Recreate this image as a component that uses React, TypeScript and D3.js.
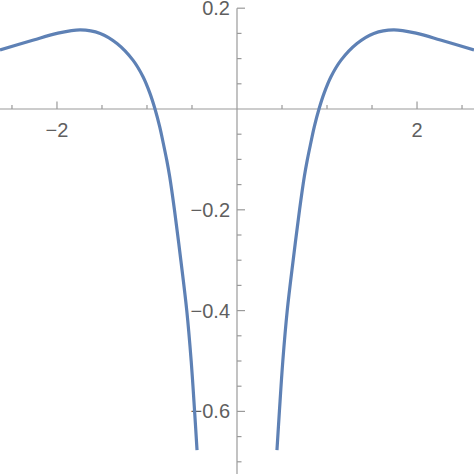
import React from 'react';
import * as d3 from 'd3';

const W = 474;
const H = 474;

// right branch
const rightX = [0.444, 0.471, 0.509, 0.558, 0.624, 0.695, 0.748, 0.781, 0.819, 0.859, 0.911, 0.967, 1.044, 1.156, 1.333, 1.52, 1.74, 2.0, 2.26, 2.633];
const rightY = [-0.677, -0.6, -0.5, -0.4, -0.3, -0.2, -0.134, -0.101, -0.068, -0.035, 0, 0.031, 0.064, 0.097, 0.13, 0.15, 0.157, 0.15, 0.137, 0.117];

// left branch
const leftX = [-2.633, -2.26, -2.0, -1.74, -1.52, -1.333, -1.156, -1.044, -0.967, -0.911, -0.859, -0.819, -0.781, -0.748, -0.695, -0.624, -0.558, -0.509, -0.471, -0.444];
const leftY = [0.117, 0.137, 0.15, 0.157, 0.15, 0.13, 0.097, 0.064, 0.031, 0, -0.035, -0.068, -0.101, -0.134, -0.2, -0.3, -0.4, -0.5, -0.6, -0.677];

const xMajorTicks = [-2, 2];
const xMinorTicks = [-2.5, -1.5, -1, -0.5, 0.5, 1, 1.5, 2.5];
const yMajorTicks = [0.2, -0.2, -0.4, -0.6];
const yMinorTicks = [0.15, 0.1, 0.05, -0.05, -0.1, -0.15, -0.25, -0.3, -0.35, -0.45, -0.5, -0.55, -0.65, -0.7];

const fmt = (v: number) => (v < 0 ? '\u2212' + Math.abs(v) : String(v));

export default function App() {
  const x = d3.scaleLinear().domain([-2.633, 2.633]).range([0, W]);
  const y = d3.scaleLinear().domain([0, -0.2]).range([109, 209.8]);

  const line = d3.line<[number, number]>()
    .x(d => x(d[0]))
    .y(d => y(d[1]))
    .curve(d3.curveCatmullRom.alpha(0.5));

  const right = rightX.map((v, i) => [v, rightY[i]] as [number, number]);
  const left = leftX.map((v, i) => [v, leftY[i]] as [number, number]);

  const axisColor = '#9a9a9a';
  const labelColor = '#5f5f5f';
  const x0 = x(0);
  const y0 = y(0);

  return (
    <svg width={W} height={H} style={{ position: 'fixed', left: 0, top: 0, background: '#fff' }}
      fontFamily="'Liberation Sans', Arial, sans-serif" fontSize={20}>
      {/* axes */}
      <line x1={0} x2={W} y1={y0} y2={y0} stroke={axisColor} strokeWidth={1.2} />
      <line x1={x0} x2={x0} y1={y(0.2)} y2={H} stroke={axisColor} strokeWidth={1.2} />

      {xMinorTicks.map(t => (
        <line key={'xm' + t} x1={x(t)} x2={x(t)} y1={y0} y2={y0 - 4} stroke={axisColor} strokeWidth={1.2} />
      ))}
      {xMajorTicks.map(t => (
        <g key={'xM' + t}>
          <line x1={x(t)} x2={x(t)} y1={y0} y2={y0 - 7.5} stroke={axisColor} strokeWidth={1.2} />
          <text x={x(t)} y={y0 + 28} textAnchor="middle" fill={labelColor}>{fmt(t)}</text>
        </g>
      ))}

      {yMinorTicks.map(t => (
        <line key={'ym' + t} x1={x0} x2={x0 + 4.5} y1={y(t)} y2={y(t)} stroke={axisColor} strokeWidth={1.2} />
      ))}
      {yMajorTicks.map(t => (
        <g key={'yM' + t}>
          <line x1={x0} x2={x0 + 8} y1={y(t)} y2={y(t)} stroke={axisColor} strokeWidth={1.2} />
          <text x={x0 - 7} y={y(t) + 7} textAnchor="end" fill={labelColor}>{fmt(t)}</text>
        </g>
      ))}

      <path d={line(left) || ''} fill="none" stroke="#5e81b5" strokeWidth={3.2} />
      <path d={line(right) || ''} fill="none" stroke="#5e81b5" strokeWidth={3.2} />
    </svg>
  );
}
